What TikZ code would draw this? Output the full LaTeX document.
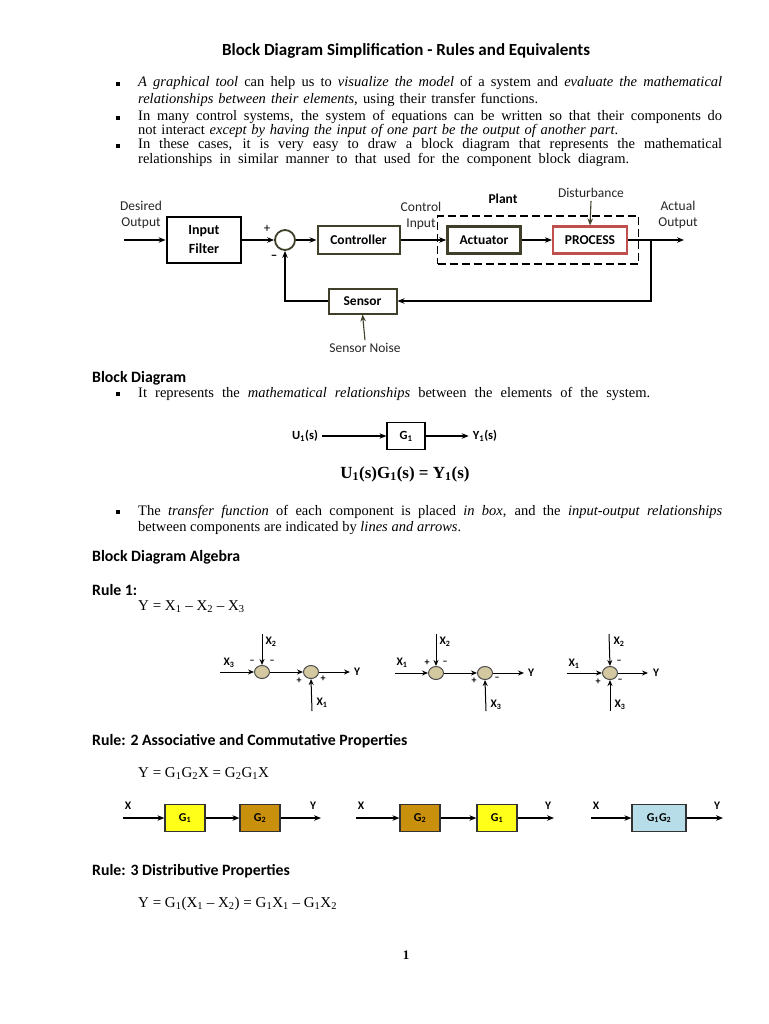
\documentclass[tikz,border=0pt]{standalone}
\usepackage{fontspec}
\setmainfont{Liberation Serif}
\setsansfont{Carlito}
\usetikzlibrary{arrows.meta,shapes.geometric}
\definecolor{olv}{HTML}{3F3F2A}
\definecolor{procred}{HTML}{C0504D}
\definecolor{sjfill}{HTML}{D3C8A0}
\definecolor{gyel}{HTML}{FFFF1A}
\definecolor{ggold}{HTML}{C8900C}
\definecolor{gblue}{HTML}{B7DDE8}
\newcommand{\jl}[1]{\makebox[584pt][s]{#1}}
\newcommand{\wl}[2]{\makebox[#1pt][s]{#2}}
\newcommand{\sbx}[1]{\textsubscript{#1}}
\begin{document}
\begin{tikzpicture}[x=1pt,y=-1pt,
 arr/.style={-{Stealth[length=7pt,width=5.5pt]}, line width=1.1pt},
 arrs/.style={-{Stealth[length=6pt,width=5pt]}, line width=1pt},
 hdg/.style={anchor=base west, font=\sffamily\bfseries\fontsize{15.8}{18}\selectfont, inner sep=0},
 body/.style={anchor=base west, font=\fontsize{14.5}{17}\selectfont, inner sep=0},
 eqn/.style={anchor=base west, font=\fontsize{15}{17}\selectfont, inner sep=0},
 bul/.style={anchor=base west, inner sep=0},
 lbl/.style={font=\sffamily\fontsize{13.5}{16}\selectfont, align=center, inner sep=0, text=black!85},
 bk/.style={draw=olv, line width=2pt, font=\sffamily\bfseries\fontsize{13.5}{15}\selectfont, inner sep=0, minimum height=27pt, align=center},
 sj/.style={ellipse, draw=black!70, fill=sjfill, line width=1pt, minimum width=15pt, minimum height=13pt, inner sep=0},
 xl/.style={font=\sffamily\bfseries\fontsize{11.5}{13}\selectfont, inner sep=0},
 sg/.style={font=\sffamily\bfseries\fontsize{10}{12}\selectfont, inner sep=0},
 gb/.style={draw=black!80, line width=1.2pt, font=\sffamily\bfseries\fontsize{12}{14}\selectfont, minimum height=27pt, minimum width=40pt, inner sep=0},
]
\useasboundingbox (0,0) rectangle (768,1024);
\fill[white] (0,0) rectangle (768,1024);

% title
\node[font=\sffamily\bfseries\fontsize{17}{19}\selectfont, inner sep=0] (title) at (406,51) {Block Diagram Simplification - Rules and Equivalents};

% bullets
\node[bul] (b1) at (116,86) {\rule{4pt}{4pt}};
\node[bul] (b2) at (116,120) {\rule{4pt}{4pt}};
\node[bul] (b3) at (116,148) {\rule{4pt}{4pt}};
\node[body] (l1) at (138,87) {\jl{\textit{A graphical tool} can help us to \textit{visualize the model} of a system and \textit{evaluate the mathematical}}};
\node[body] (l2) at (138,104) {\wl{400}{\textit{relationships between their elements}, using their transfer functions.}};
\node[body] (l3) at (138,121) {\jl{In many control systems, the system of equations can be written so that their components do}};
\node[body] (l4) at (138,135) {\wl{480}{not interact \textit{except by having the input of one part be the output of another part}.}};
\node[body] (l5) at (138,149) {\jl{In these cases, it is very easy to draw a block diagram that represents the mathematical}};
\node[body] (l6) at (138,164) {\wl{491}{relationships in similar manner to that used for the component block diagram.}};

% ---- control block diagram ----
\node[lbl] (desired) at (141,215) {Desired\\Output};
\coordinate (in) at (124,240);
\node[draw=black, line width=2.8pt, minimum width=74pt, minimum height=46pt, font=\sffamily\bfseries\fontsize{14}{19}\selectfont, align=center, inner sep=0] (filter) at (204,240) {Input\\Filter};
\node[circle, draw=olv, line width=1.8pt, minimum size=20pt, inner sep=0] (sum) at (285,240) {};
\node[font=\sffamily\fontsize{13}{14}\selectfont, inner sep=0] (plus) at (267,229) {+};
\node[font=\sffamily\bfseries\fontsize{13}{14}\selectfont, inner sep=0] (minus) at (274,257) {–};
\node[bk, minimum width=82pt] (ctrl) at (358.5,240) {Controller};
\node[lbl] (cin) at (421,216) {Control\\Input};
\node[draw=black, dashed, dash pattern=on 8pt off 4pt, line width=1.8pt, minimum width=201pt, minimum height=48pt, inner sep=0] (plant) at (538,240) {};
\node[font=\sffamily\bfseries\fontsize{13.5}{15}\selectfont, inner sep=0] (plantlbl) at (503,199) {Plant};
\node[bk, minimum width=73pt, line width=2.6pt] (act) at (484,240) {Actuator};
\node[bk, draw=procred, minimum width=74pt, line width=2.2pt] (proc) at (590,240) {PROCESS};
\node[lbl] (dist) at (591,193) {Disturbance};
\node[lbl] (aout) at (678,215) {Actual\\Output};
\coordinate (out) at (684,240);
\coordinate (branch) at (651,240);
\node[bk, minimum width=68pt, minimum height=25pt] (sensor) at (362.5,301) {Sensor};
\node[lbl] (noise) at (365,348) {Sensor Noise};

\draw[arr] (in) -- (filter.west);
\draw[arr] (filter.east) -- (sum.west);
\draw[arr] (sum.east) -- (ctrl.west);
\draw[arr] (ctrl.east) -- (act.west);
\draw[arr] (act.east) -- (proc.west);
\draw[arr] (proc.east) -- (out);
\draw[arr] (branch) |- (sensor.east);
\draw[arr] (sensor.west) -| (sum.south);
\draw[arr, draw=olv] (noise.north) ++(0,-3) -- (sensor.south);
\draw[arr, draw=olv] (dist.south) ++(0,3) -- (proc.north);

% ---- Block Diagram section ----
\node[hdg] (h1) at (92,382) {Block Diagram};
\node[bul] (b4) at (116,396) {\rule{4pt}{4pt}};
\node[body] (l7) at (138,397) {\wl{512}{It represents the \textit{mathematical relationships} between the elements of the system.}};

\node[font=\sffamily\bfseries\fontsize{12.5}{14}\selectfont, inner sep=0] (u1) at (305,436) {U\sbx{1}(s)};
\node[draw=black, line width=1.2pt, minimum width=38pt, minimum height=27pt, font=\sffamily\bfseries\fontsize{12.5}{14}\selectfont, inner sep=0] (g1) at (406,436) {G\sbx{1}};
\node[font=\sffamily\bfseries\fontsize{12.5}{14}\selectfont, inner sep=0] (y1) at (485,436) {Y\sbx{1}(s)};
\draw[arr] (u1.east) ++(4,0) -- (g1.west);
\draw[arr] (g1.east) -- ([xshift=-4pt]y1.west);

\node[font=\bfseries\fontsize{17}{19}\selectfont, inner sep=0] (eq1) at (405,474) {U\sbx{1}(s)G\sbx{1}(s) = Y\sbx{1}(s)};

\node[bul] (b5) at (116,514) {\rule{4pt}{4pt}};
\node[body] (l8) at (138,515) {\jl{The \textit{transfer function} of each component is placed \textit{in box}, and the \textit{input-output relationships}}};
\node[body] (l9) at (138,531) {\wl{323}{between components are indicated by \textit{lines and arrows}.}};

% ---- Block Diagram Algebra ----
\node[hdg] (h2) at (92,561) {Block Diagram Algebra};
\node[hdg] (h3) at (92,595) {Rule 1:};
\node[eqn] (eqr1) at (138,610) {Y = X\sbx{1} – X\sbx{2} – X\sbx{3}};

% diagram 1
\node[sj] (a1) at (262,672) {};
\node[sj] (a2) at (311,672) {};
\coordinate (a1in) at (220,672);
\coordinate (a1top) at (262,634);
\coordinate (a2bot) at (312,711);
\coordinate (a2out) at (350,672);
\draw[arrs] (a1in) -- (a1.west);
\draw[arrs] (a1top) -- (a1.north);
\draw[arrs] (a1.east) -- (a2.west);
\draw[arrs] (a2bot) -- (a2.south);
\draw[arrs] (a2.east) -- (a2out);
\node[xl] (a1x3) at (229,663) {X\sbx{3}};
\node[xl] (a1x2) at (271,642) {X\sbx{2}};
\node[xl] (a1x1) at (322,703) {X\sbx{1}};
\node[xl] (a1y) at (357,672) {Y};
\node[sg] (a1m1) at (252,662) {–};
\node[sg] (a1m2) at (272,662) {–};
\node[sg] (a1p1) at (299,681) {+};
\node[sg] (a1p2) at (323,679) {+};

% diagram 2
\node[sj] (c1) at (436,673) {};
\node[sj] (c2) at (485,673) {};
\coordinate (c1in) at (395,673);
\coordinate (c1top) at (436,634);
\coordinate (c2bot) at (486,711);
\coordinate (c2out) at (524,673);
\draw[arrs] (c1in) -- (c1.west);
\draw[arrs] (c1top) -- (c1.north);
\draw[arrs] (c1.east) -- (c2.west);
\draw[arrs] (c2bot) -- (c2.south);
\draw[arrs] (c2.east) -- (c2out);
\node[xl] (c1x1) at (402,663) {X\sbx{1}};
\node[xl] (c1x2) at (445,642) {X\sbx{2}};
\node[xl] (c2x3) at (496,705) {X\sbx{3}};
\node[xl] (c2y) at (531,673) {Y};
\node[sg] (c1p) at (427,663) {+};
\node[sg] (c1m) at (445,663) {–};
\node[sg] (c2p) at (474,681) {+};
\node[sg] (c2m) at (497,679) {–};

% diagram 3
\node[sj] (d1) at (610,673) {};
\coordinate (d1in) at (567,673);
\coordinate (d1top) at (609,634);
\coordinate (d1bot) at (610,711);
\coordinate (d1out) at (648,673);
\draw[arrs] (d1in) -- (d1.west);
\draw[arrs] (d1top) -- (d1.north);
\draw[arrs] (d1bot) -- (d1.south);
\draw[arrs] (d1.east) -- (d1out);
\node[xl] (d1x1) at (574,664) {X\sbx{1}};
\node[xl] (d1x2) at (619,642) {X\sbx{2}};
\node[xl] (d1x3) at (620,705) {X\sbx{3}};
\node[xl] (d1y) at (656,673) {Y};
\node[sg] (d1m1) at (619,662) {–};
\node[sg] (d1p) at (598,682) {+};
\node[sg] (d1m2) at (620,681) {–};

% ---- Rule 2 ----
\node[hdg] (h4) at (92,745) {Rule: 2 Associative and Commutative Properties};
\node[eqn] (eqr2) at (138,777) {Y = G\sbx{1}G\sbx{2}X = G\sbx{2}G\sbx{1}X};

\coordinate (p1in) at (123,818);
\node[gb, fill=gyel] (p1g1) at (185,818) {G\sbx{1}};
\node[gb, fill=ggold] (p1g2) at (260,818) {G\sbx{2}};
\coordinate (p1out) at (321,818);
\draw[arr] (p1in) -- (p1g1.west);
\draw[arr] (p1g1.east) -- (p1g2.west);
\draw[arr] (p1g2.east) -- (p1out);
\node[xl] (p1x) at (128,806) {X};
\node[xl] (p1y) at (313,806) {Y};

\coordinate (p2in) at (356,818);
\node[gb, fill=ggold] (p2g2) at (420,818) {G\sbx{2}};
\node[gb, fill=gyel] (p2g1) at (497,818) {G\sbx{1}};
\coordinate (p2out) at (554,818);
\draw[arr] (p2in) -- (p2g2.west);
\draw[arr] (p2g2.east) -- (p2g1.west);
\draw[arr] (p2g1.east) -- (p2out);
\node[xl] (p2x) at (361,806) {X};
\node[xl] (p2y) at (548,806) {Y};

\coordinate (p3in) at (591,818);
\node[gb, fill=gblue, minimum width=54pt] (p3g) at (659,818) {G\sbx{1}G\sbx{2}};
\coordinate (p3out) at (723,818);
\draw[arr] (p3in) -- (p3g.west);
\draw[arr] (p3g.east) -- (p3out);
\node[xl] (p3x) at (596,806) {X};
\node[xl] (p3y) at (717,806) {Y};

% ---- Rule 3 ----
\node[hdg] (h5) at (92,875) {Rule: 3 Distributive Properties};
\node[eqn] (eqr3) at (138,907) {Y = G\sbx{1}(X\sbx{1} – X\sbx{2}) = G\sbx{1}X\sbx{1} – G\sbx{1}X\sbx{2}};

\node[font=\bfseries\fontsize{13}{15}\selectfont, inner sep=0] (pg) at (406,955) {1};
\end{tikzpicture}
\end{document}
